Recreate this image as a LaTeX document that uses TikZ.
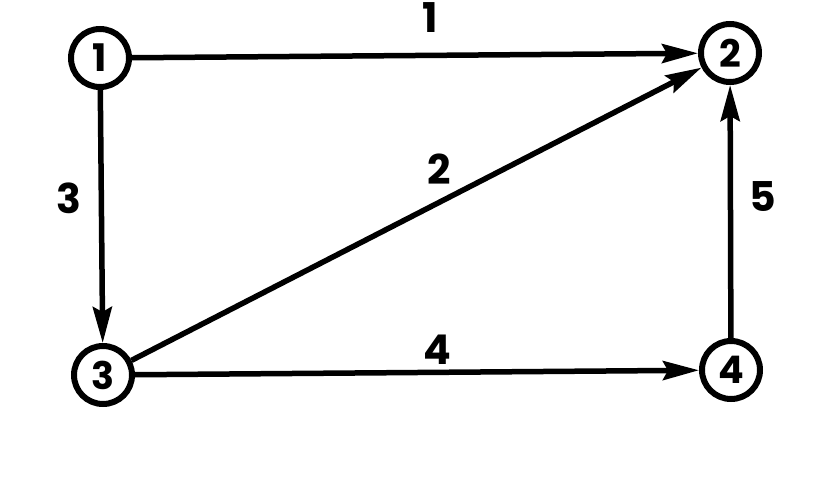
\documentclass[tikz,border=0pt]{standalone}
\usepackage{fontspec}
\setmainfont{Poppins}
\usetikzlibrary{arrows.meta}
\begin{document}
\begin{tikzpicture}[x=1pt,y=-1pt,
  vert/.style={circle,draw,line width=6pt,minimum size=58pt,inner sep=0pt,font=\fontsize{38}{38}\selectfont\bfseries},
  lab/.style={font=\fontsize{41}{41}\selectfont\bfseries,inner sep=0pt},
  arc/.style={line width=5.5pt,-{Stealth[length=36pt,width=19pt,inset=5pt]}}]
\useasboundingbox (0,0) rectangle (839,480);
\node[vert] (n1) at (100,58) {1};
\node[vert] (n2) at (730,53) {2};
\node[vert] (n3) at (103,375) {3};
\node[vert] (n4) at (731,370) {4};
\draw[arc] (n1) -- (n2);
\draw[arc] (n1) -- (n3);
\draw[arc] (n3) -- (n2);
\draw[arc] (n3) -- (n4);
\draw[arc] (n4) -- (n2);
\node[lab] (l1) at (430,18) {1};
\node[lab] (l2) at (439,169) {2};
\node[lab] (l3) at (69,198) {3};
\node[lab] (l4) at (437,350) {4};
\node[lab] (l5) at (763,197) {5};
\end{tikzpicture}
\end{document}
